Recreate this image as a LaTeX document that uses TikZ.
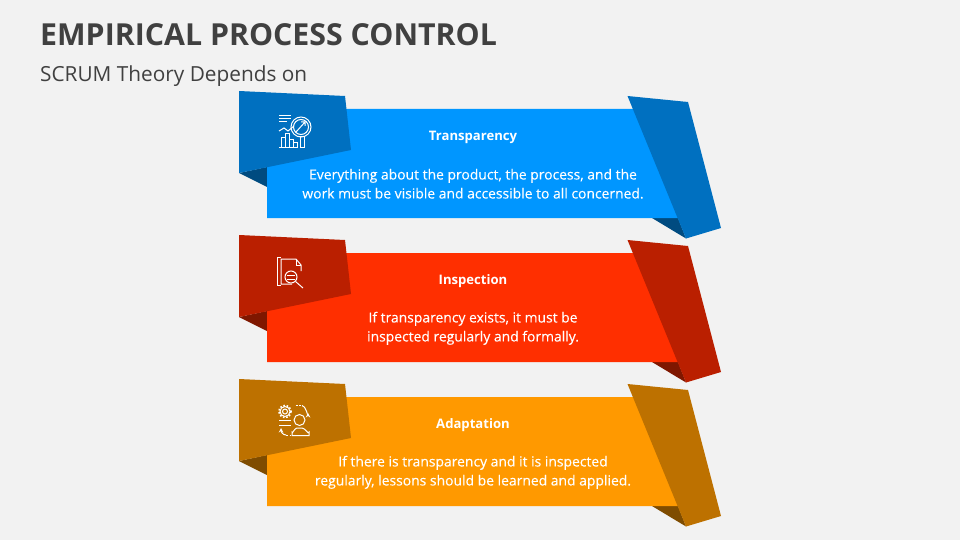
\documentclass[tikz,border=0pt]{standalone}
\usepackage{fontspec}
\setmainfont{Open Sans}
\newfontfamily\bodyfont[FakeBold=.2]{Open Sans}
\definecolor{bgGray}{HTML}{F2F2F2}
\definecolor{titleGray}{HTML}{404040}
\definecolor{blueMain}{HTML}{0096FF}
\definecolor{blueFlap}{HTML}{0070C0}
\definecolor{blueFold}{HTML}{004B80}
\definecolor{redMain}{HTML}{FF2F00}
\definecolor{redFlap}{HTML}{BA1F00}
\definecolor{redFold}{HTML}{7F1700}
\definecolor{orangeMain}{HTML}{FF9900}
\definecolor{orangeFlap}{HTML}{BD7100}
\definecolor{orangeFold}{HTML}{7F4C00}
\tikzset{
  headtext/.style={text=white,font=\fontsize{13.1}{19}\selectfont\bfseries,anchor=center},
  bodytext/.style={text=white,font=\bodyfont\fontsize{13.9}{19}\selectfont,align=center,anchor=center},
  iconline/.style={draw=white,line width=1pt,fill=none},
}
\newcommand{\ribbon}[3]{%
  \fill[#3](239,173)--(267,187)--(267,167)--cycle;
  \fill[#3](652,218)--(686,238.5)--(678,218)--cycle;
  \fill[#1](267,109)--(640,109)--(680,218)--(267,218)--cycle;
  \fill[#2](239,91)--(345,96)--(351,150)--(239,173)--cycle;
  \fill[#2](627.5,96)--(688,102)--(721,228)--(686,238.5)--cycle;
}
\begin{document}
\begin{tikzpicture}[x=1pt,y=-1pt,>=stealth]
\useasboundingbox(0,0)rectangle(960,540);
\fill[bgGray](0,0)rectangle(960,540);
\node[anchor=west,inner sep=0,text=titleGray,font=\fontsize{30.3}{36}\selectfont\bfseries](title)at(40,34.5){EMPIRICAL PROCESS CONTROL};
\node[anchor=west,inner sep=0,text=titleGray,font=\fontsize{20.8}{24}\selectfont](subtitle)at(40,76){SCRUM Theory Depends on};
\begin{scope}
\ribbon{blueMain}{blueFlap}{blueFold}
\node[headtext](headA)at(473,137){Transparency};
\node[bodytext](bodyA)at(473,183.8){Everything about the product, the process, and the\\work must be visible and accessible to all concerned.};
% chart and lens
\draw[iconline](279,116)--(291,116)(279,119)--(291,119)(279,122)--(287,122);
\draw[iconline](279,131)--(284,128)--(288,131)--(294,126);
\draw[iconline](301,127)circle(10)(301,127)circle(7.5);
\draw[iconline](296,132)--(305,122)(301,122)--(305,122)--(305,126);
\draw[iconline](300,137)rectangle(304,148);
\draw[iconline](279,148)--(298,148)(281,148)--(281,138)--(285,138)--(285,148)(285,148)--(285,134)--(289,134)--(289,148)(289,148)--(289,140)--(293,140)--(293,148)(293,148)--(293,143)--(297,143)--(297,148);
\end{scope}
\begin{scope}[yshift=-144pt]
\ribbon{redMain}{redFlap}{redFold}
\node[headtext](headB)at(473,137){Inspection};
\node[bodytext](bodyB)at(473,184.3){If transparency exists, it must be\\inspected regularly and formally.};
% page and lens
\draw[iconline](281,113)--(277,113)--(277,141)--(281,141);
\draw[iconline](292,140)--(281,140)--(281,115)--(296,115)--(301,121)--(301,127);
\draw[iconline](296,115)--(296,121)--(301,121);
\draw[iconline](291,133)circle(6);
\draw[iconline](287,131.5)--(295,131.5)(287,135)--(295,135);
\draw[iconline](295.5,137.5)--(303,144);
\end{scope}
\begin{scope}[yshift=-288pt]
\ribbon{orangeMain}{orangeFlap}{orangeFold}
\node[headtext](headC)at(473,137){Adaptation};
\node[bodytext](bodyC)at(473,184.3){If there is transparency and it is inspected\\regularly, lessons should be learned and applied.};
% gear, person and arrows
\draw[iconline](285,123.5)circle(5)(285,123.5)circle(2.5);
\draw[white,line width=1.6pt,dash pattern=on 1.6pt off 1.7pt](285,123.5)circle(6);
\draw[iconline](279,132)--(291,132)(279,137)--(291,137);
\draw[iconline](299.5,132)circle(5.5);
\draw[iconline](292,147.5)--(292,144)to[out=-80,in=180](297,140)--(302,140)to[out=0,in=-100](309,144)--(309,147.5)--cycle;
\draw[iconline,dashed,dash pattern=on 2pt off 1.5pt](295.5,117.5)--(302,117.5);
\draw[iconline,->](302,117.5)to[out=0,in=-90](308,125);
\draw[iconline,<-](281,140)to[out=-90,in=180](286,147);
\draw[iconline,dashed,dash pattern=on 2pt off 1.5pt](286,147)--(290,147);
\end{scope}
\end{tikzpicture}
\end{document}
